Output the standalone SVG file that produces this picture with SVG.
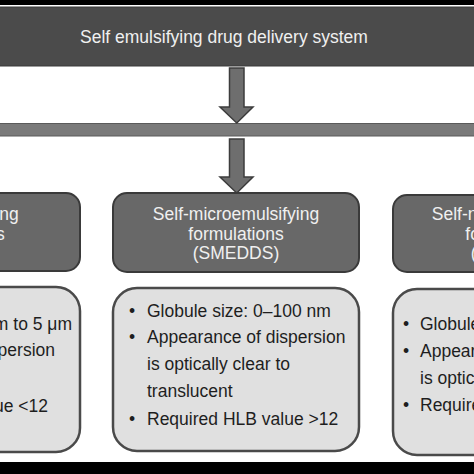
<svg xmlns="http://www.w3.org/2000/svg" width="474" height="474" viewBox="0 0 474 474">
<style>
text{font-family:"Liberation Sans",Arial,sans-serif;font-size:17.5px}
.hd{fill:#f0f0f0;text-anchor:middle}
.bd{fill:#1e1e1e}
.hbox{fill:#686868;stroke:#3a3a3a;stroke-width:2}
.lbox{fill:#e0e0e0;stroke:#4a4a4a;stroke-width:2.5}
.arrow{fill:#6e6e6e;stroke:#3c3c3c;stroke-width:1.5}
</style>
<rect x="0" y="0" width="474" height="474" fill="#ffffff"/>
<rect x="0" y="0" width="474" height="5" fill="#000"/>
<rect x="0" y="462" width="474" height="12" fill="#000"/>
<g id="top">
<rect x="-2" y="7" width="478" height="59" fill="#4b4b4b" stroke="#3a3a3a" stroke-width="1"/>
<text class="hd" x="224" y="43">Self emulsifying drug delivery system</text>
</g>
<g id="bar">
<rect x="-2" y="123.5" width="478" height="12.5" fill="#7a7a7a" stroke="#5a5a5a" stroke-width="1"/>
</g>
<g id="connectors">
<path class="arrow" d="M229.5 68 H244 V107 H253 L236.75 123 L220 107 H229.5 Z"/>
<path class="arrow" d="M229.5 139 H244 V177 H253 L236.75 193 L220 177 H229.5 Z"/>
</g>
<g id="left-header">
<rect class="hbox" x="-166" y="193" width="246" height="78" rx="14"/>
<text class="hd" x="-43" y="220">Self-emulsifying</text>
<text class="hd" x="-43" y="240">formulations</text>
</g>
<g id="middle-header">
<rect class="hbox" x="113" y="193" width="246" height="79" rx="14"/>
<text class="hd" x="236" y="220">Self-microemulsifying</text>
<text class="hd" x="236" y="240">formulations</text>
<text class="hd" x="236" y="259">(SMEDDS)</text>
</g>
<g id="right-header">
<rect class="hbox" x="393" y="195" width="246" height="77" rx="14"/>
<text class="hd" x="513" y="220">Self-nanoemulsifying</text>
<text class="hd" x="513" y="240">formulations</text>
<text class="hd" x="513" y="259">(SNEDDS)</text>
</g>
<g id="left-props">
<rect class="lbox" x="-166" y="287" width="246" height="165" rx="24"/>
<text class="bd" x="72" y="330" text-anchor="end">• Globule size: 100 nm to 5 μm</text>
<text class="bd" x="55" y="356" text-anchor="end">• Appearance of dispersion</text>
<text class="bd" x="48" y="412" text-anchor="end">• Required HLB value &lt;12</text>
</g>
<g id="middle-props">
<rect class="lbox" x="113" y="288" width="246" height="163" rx="24"/>
<text class="bd" x="129" y="317">•</text>
<text class="bd" x="147" y="317">Globule size: 0–100 nm</text>
<text class="bd" x="129" y="343">•</text>
<text class="bd" x="147" y="343">Appearance of dispersion</text>
<text class="bd" x="147" y="370">is optically clear to</text>
<text class="bd" x="147" y="397">translucent</text>
<text class="bd" x="129" y="425">•</text>
<text class="bd" x="147" y="425">Required HLB value &gt;12</text>
</g>
<g id="right-props">
<rect class="lbox" x="393" y="289" width="246" height="166" rx="24"/>
<text class="bd" x="403" y="330">•</text>
<text class="bd" x="420" y="330">Globule size: 20–200 nm</text>
<text class="bd" x="403" y="357">•</text>
<text class="bd" x="420" y="357">Appearance of dispersion</text>
<text class="bd" x="420" y="384">is optically clear</text>
<text class="bd" x="403" y="411">•</text>
<text class="bd" x="420" y="411">Required HLB value &gt;12</text>
</g>
</svg>
